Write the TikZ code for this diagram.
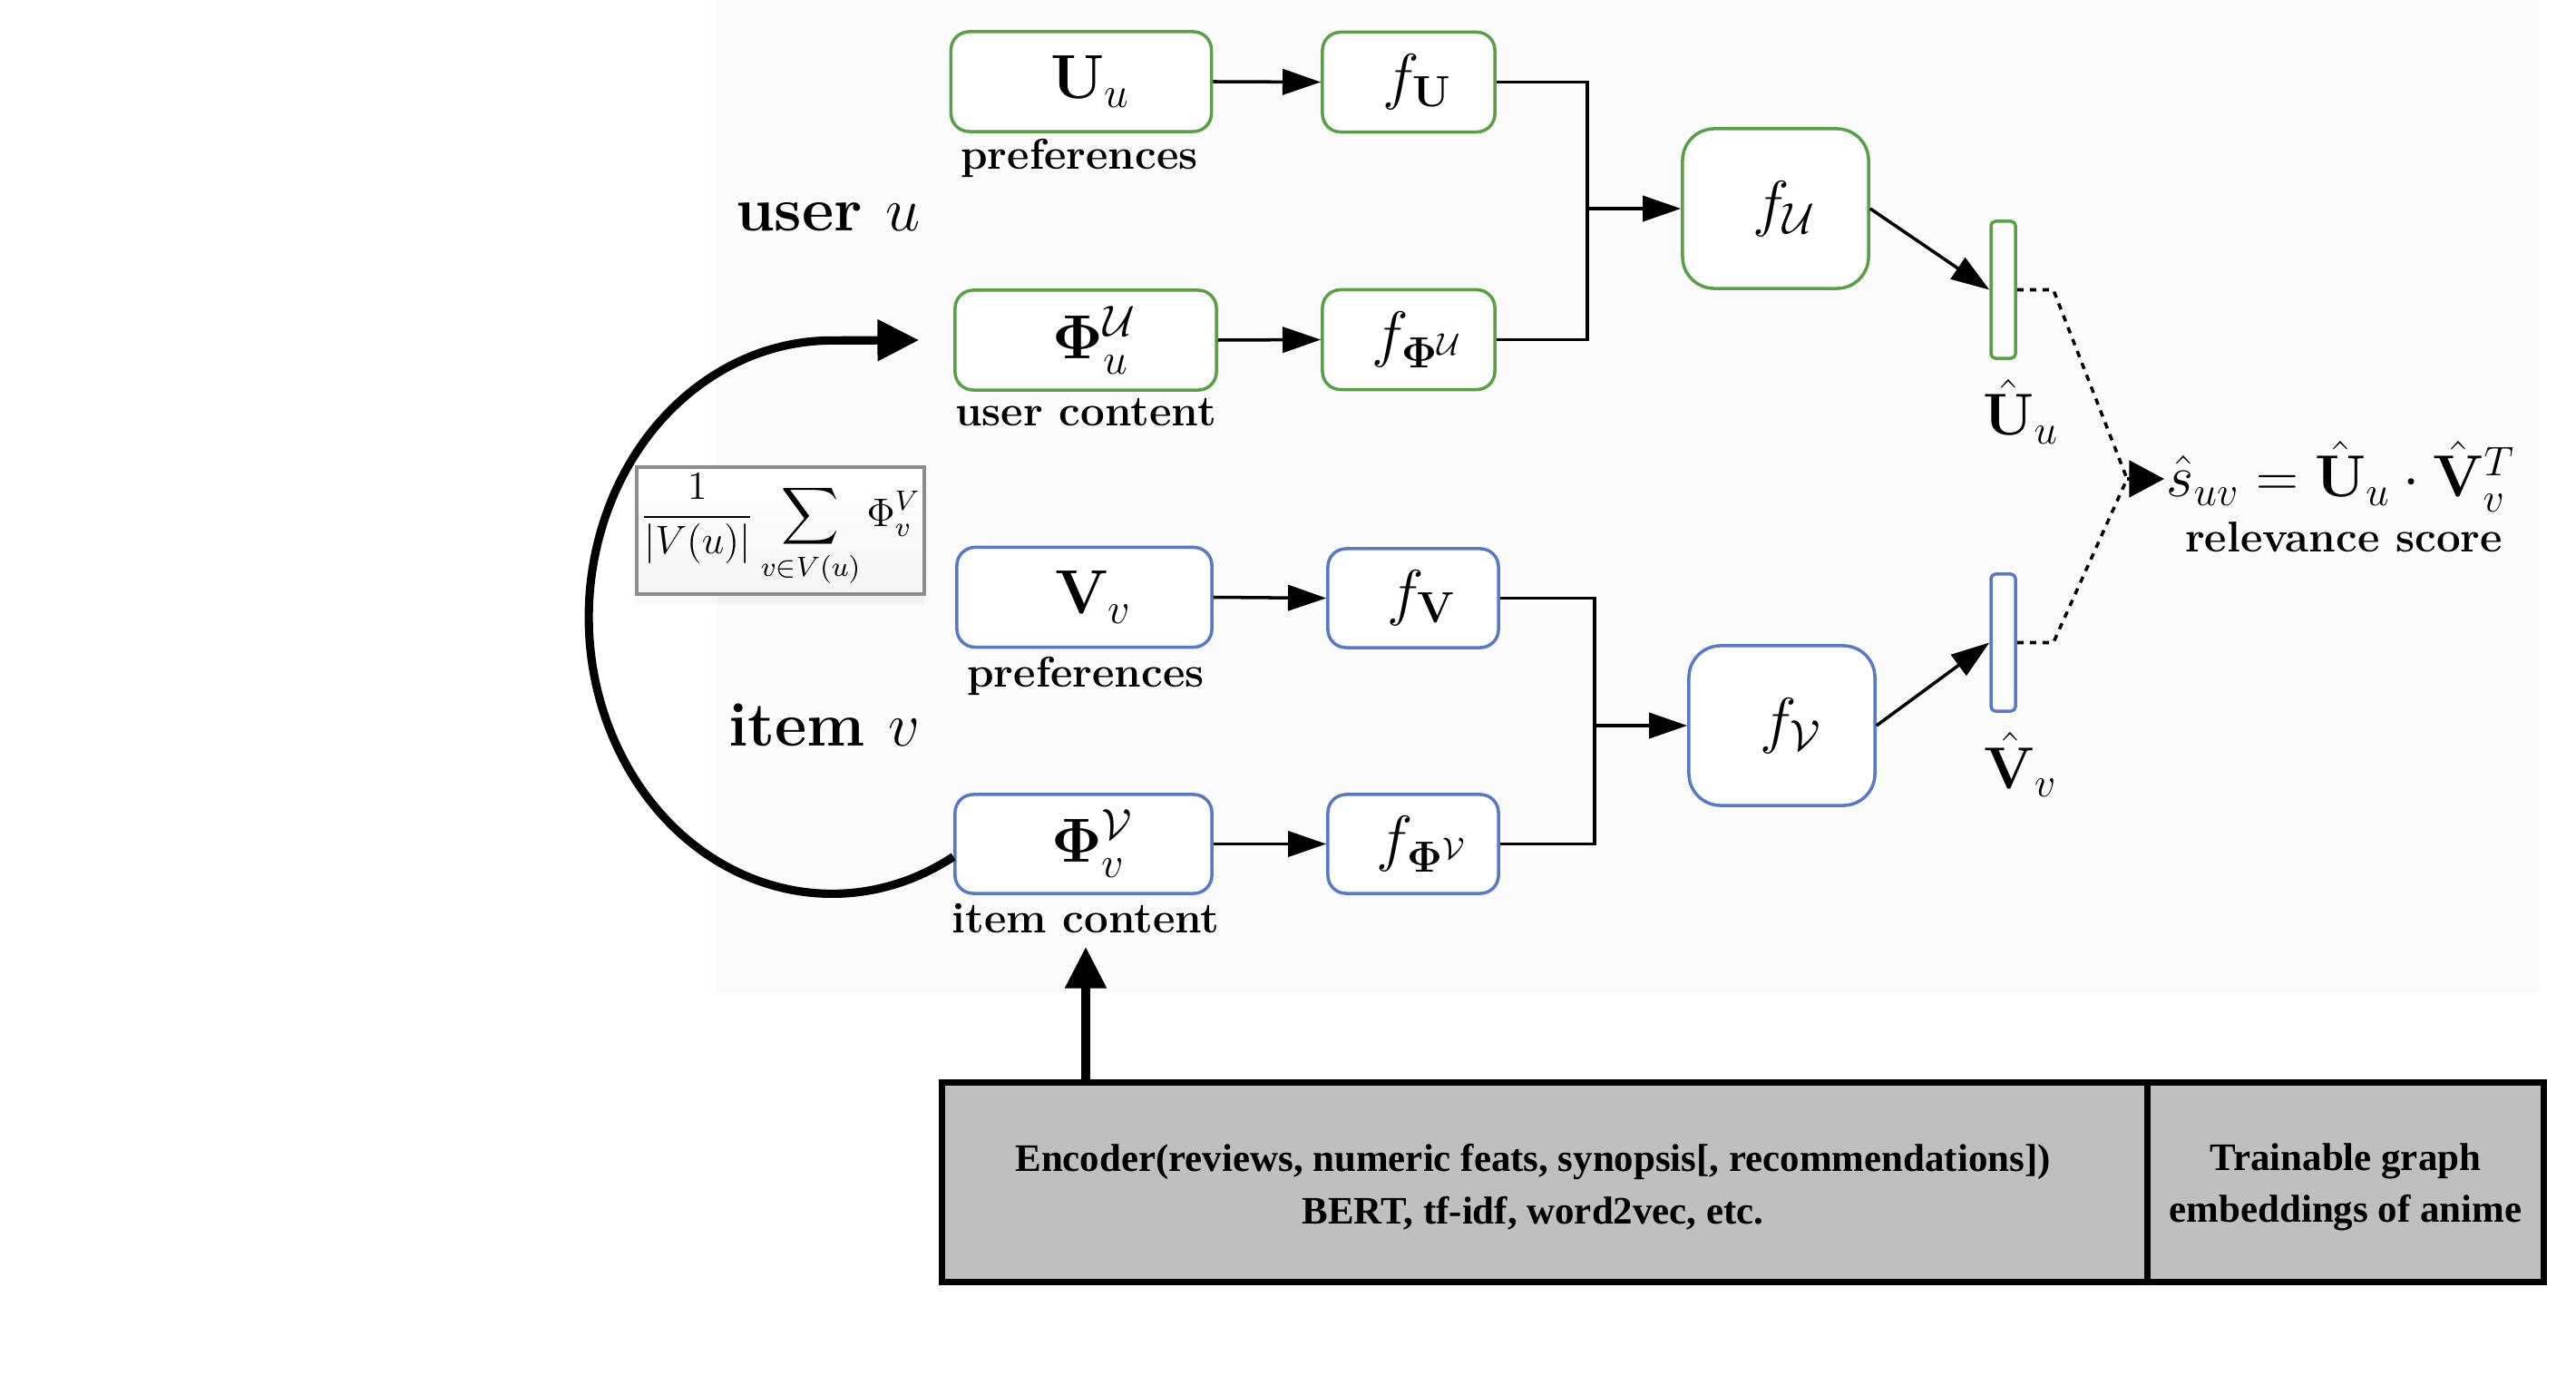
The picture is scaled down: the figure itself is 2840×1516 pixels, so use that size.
\RequirePackage{fix-cm}
\documentclass[tikz,border=0pt]{standalone}
\usepackage{amsmath,amssymb,bm}
\usepackage[no-math]{fontspec}
\newfontfamily\timesfont{Liberation Serif}
\usetikzlibrary{arrows.meta,shadows}
\definecolor{ugreen}{RGB}{88,160,68}
\definecolor{vblue}{RGB}{88,120,200}
\definecolor{encgray}{RGB}{191,191,191}
\definecolor{bgfaint}{RGB}{251,251,251}
\newcommand\Mathsize{\fontsize{19.5}{23}\selectfont}
\newcommand\Scoresize{\fontsize{18.5}{22}\selectfont}
\newcommand\Lblsize{\fontsize{13.5}{16}\selectfont}
\newcommand\Encsize{\fontsize{12.2}{16.4}\selectfont}
\newcommand\rsh{\hspace*{0.2cm}}
\begin{document}
\begin{tikzpicture}[x=0.01cm,y=-0.01cm,
  every node/.style={inner sep=0pt},
  ubox/.style={draw=ugreen, line width=1pt, rounded corners=0.2cm, fill=white, font=\Mathsize},
  vbox/.style={ubox, draw=vblue},
  lbl/.style={font=\Lblsize\bfseries, anchor=base},
  arr/.style={line width=1pt, -{Triangle[length=12pt,width=8pt]}},
  bigarr/.style={line width=2.6pt, -{Triangle[length=13pt,width=12.5pt]}},
  dotl/.style={line width=1pt, dash pattern=on 2pt off 2pt},
  encbox/.style={draw, line width=2pt, fill=encgray, minimum height=2.19cm},
  enctext/.style={align=center, font=\timesfont\bfseries\Encsize}]
\useasboundingbox (0,0) rectangle (2840,1516);
\fill[bgfaint] (790,0) rectangle (2800,1095);

% user side
\node[ubox, minimum width=2.87cm, minimum height=1.1cm] (Uu) at (1192,90) {\rsh$\mathbf{U}_u$};
\node[ubox, minimum width=2.88cm, minimum height=1.1cm] (Pu) at (1197,375) {\rsh$\bm{\Phi}_u^{\mathcal{U}}$};
\node[ubox, minimum width=1.9cm, minimum height=1.1cm] (fU) at (1553,90.5) {\rsh$f_{\mathbf{U}}$};
\node[ubox, minimum width=1.9cm, minimum height=1.1cm] (fPU) at (1553,374.5) {\rsh$f_{\bm{\Phi}^{\mathcal{U}}}$};
\node[ubox, minimum width=2.05cm, minimum height=1.76cm, rounded corners=0.35cm] (fUU) at (1957.5,230) {\rsh$f_{\mathcal{U}}$};
\node[ubox, minimum width=0.27cm, minimum height=1.51cm, rounded corners=0.05cm] (ub) at (2208.5,319.5) {};

% item side
\node[vbox, minimum width=2.81cm, minimum height=1.1cm] (Vv) at (1195.5,658.5) {\rsh$\mathbf{V}_v$};
\node[vbox, minimum width=2.83cm, minimum height=1.09cm] (Pv) at (1194.5,930.5) {\rsh$\bm{\Phi}_v^{\mathcal{V}}$};
\node[vbox, minimum width=1.88cm, minimum height=1.09cm] (fV) at (1558,659.5) {\rsh$f_{\mathbf{V}}$};
\node[vbox, minimum width=1.88cm, minimum height=1.09cm] (fPV) at (1558,930.5) {\rsh$f_{\bm{\Phi}^{\mathcal{V}}}$};
\node[vbox, minimum width=2.05cm, minimum height=1.76cm, rounded corners=0.35cm] (fVV) at (1964.5,800) {\rsh$f_{\mathcal{V}}$};
\node[vbox, minimum width=0.27cm, minimum height=1.51cm, rounded corners=0.05cm] (vb) at (2208.5,708.5) {};

% labels
\node[lbl] (pref1) at (1190,187) {preferences};
\node[lbl] (uc) at (1197,470) {user content};
\node[lbl] (pref2) at (1197,757) {preferences};
\node[lbl] (ic) at (1197,1028) {item content};
\node[lbl] (rs) at (2584,608) {relevance score};
\node[font=\Mathsize\bfseries, anchor=base] (user) at (913,254.5) {user $u$};
\node[font=\Mathsize\bfseries, anchor=base] (item) at (909,822) {item $v$};
\node[font=\Scoresize, anchor=base] (uhat) at (2228,480) {$\hat{\mathbf{U}}_u$};
\node[font=\Scoresize, anchor=base] (vhat) at (2228,869) {$\hat{\mathbf{V}}_v$};
\node[font=\Scoresize, anchor=base west] (score) at (2388,548) {$\hat{s}_{uv} = \hat{\mathbf{U}}_u \cdot \hat{\mathbf{V}}_v^T$};

% connectors user
\draw[arr] (Uu.east) -- (fU.west);
\draw[arr] (Pu.east) -- (fPU.west);
\coordinate (ju) at (1750,230);
\draw[line width=1pt] (fU.east) -| (ju) |- (fPU.east);
\draw[arr] (ju) -- (fUU.west);
\draw[arr] (fUU.east) -- (ub.west);

% connectors item
\draw[arr] (Vv.east) -- (fV.west);
\draw[arr] (Pv.east) -- (fPV.west);
\coordinate (jv) at (1758,800);
\draw[line width=1pt] (fV.east) -| (jv) |- (fPV.east);
\draw[arr] (jv) -- (fVV.west);
\draw[arr] (fVV.east) -- (vb.west);

% score
\coordinate (jn) at (2345,528);
\coordinate (tip) at (2386,528);
\draw[dotl] (ub.east) -- ++(40,0) -- (jn);
\draw[dotl] (vb.east) -- ++(40,0) -- (jn);
\draw[line width=1pt, -{Triangle[length=11pt,width=11.5pt]}] (jn) -- (tip);

% big loop
\draw[bigarr] ([yshift=-0.14cm]Pv.west) arc[start angle=60, end angle=270, x radius=268, y radius=305] -- ([xshift=-0.38cm]Pu.west);

% average box
\node[draw={rgb,255:red,140;green,140;blue,140}, line width=1pt, top color=white, bottom color=black!4,
  drop shadow={opacity=0.06, shadow xshift=0pt, shadow yshift=-3pt},
  minimum width=3.17cm, minimum height=1.4cm, font=\fontsize{12.5}{15}\selectfont] (avg) at (860.5,585)
  {$\displaystyle\frac{1}{|V(u)|}\sum_{v\in V(u)}\Phi_v^V$};

% encoder box
\node[encbox, minimum width=13.29cm] (enc) at (1703.5,1303.5) {};
\node[encbox, minimum width=4.36cm] (tr) at (2586,1303.5) {};
\node[enctext] (enct) at (1690,1309) {Encoder(reviews, numeric feats, synopsis[, recommendations])\\BERT, tf-idf, word2vec, etc.};
\node[enctext] (trt) at (2586,1309) {Trainable graph\\embeddings of anime};
\draw[bigarr] (enc.north -| ic) -- ([yshift=-0.15cm]ic.south);
\end{tikzpicture}
\end{document}
